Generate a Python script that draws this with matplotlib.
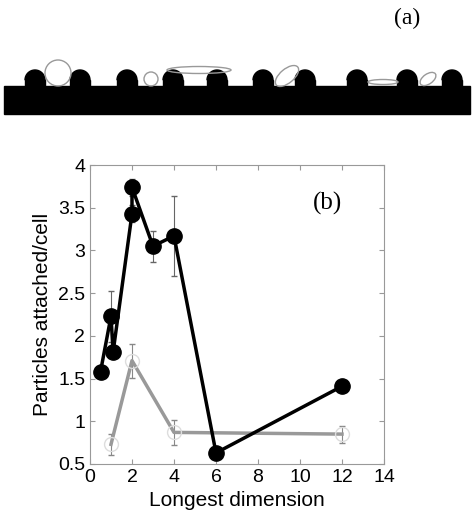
import matplotlib.pyplot as plt
from matplotlib.patches import Rectangle, Ellipse, Wedge

# panel (b) data
black_x = [0.5, 1.0, 1.1, 2.0, 2.0, 3.0, 4.0, 6.0, 12.0]
black_y = [1.58, 2.23, 1.81, 3.43, 3.74, 3.05, 3.17, 0.63, 1.41]
black_err = [0.03, 0.3, 0.05, 0.1, 0.1, 0.18, 0.47, 0.03, 0.03]
gray_x = [1.0, 2.0, 4.0, 12.0]
gray_y = [0.73, 1.71, 0.87, 0.85]
gray_err = [0.12, 0.2, 0.15, 0.1]

# panel (a) schematic, in pixel units
cell_x = [35, 80, 127, 173, 217, 263, 305, 357, 407, 452]
particles = [  # (x, y, width, height, angle)
    (58, 73, 26, 26, 0), (151, 79, 14, 14, 0), (199, 70, 64, 7, 0),
    (287, 76, 28, 14, 40), (383, 82, 30, 5, 0), (428, 79, 18, 10, 35),
]

W, H = 474, 526
fig = plt.figure(figsize=(W / 100, H / 100), dpi=100)

ax_a = fig.add_axes([0, 1 - 130 / H, 1, 130 / H])
ax_a.set_xlim(0, W)
ax_a.set_ylim(130, 0)
ax_a.axis("off")
ax_a.add_patch(Rectangle((4, 86), 466, 28, color="black"))
for cx in cell_x:
    ax_a.add_patch(Rectangle((cx - 10, 80), 20, 7, color="black"))
    ax_a.add_patch(Wedge((cx, 80), 10, 180, 360, color="black"))
for px, py, pw, ph, ang in particles:
    ax_a.add_patch(Ellipse((px, py), pw, ph, angle=-ang, fill=False, edgecolor="#999999", linewidth=1))
ax_a.text(407, 18, "(a)", fontsize=17, family="Liberation Serif", ha="center", va="center")

ax = fig.add_axes([90 / W, 1 - 464 / H, 294 / W, 299 / H])
ax.errorbar(gray_x, gray_y, yerr=gray_err, color="#999999", linewidth=2.5, marker="o",
            markersize=10, markerfacecolor="none", markeredgecolor="#dddddd",
            ecolor="#888888", elinewidth=0.8, capsize=2)
ax.errorbar(black_x, black_y, yerr=black_err, color="black", linewidth=2.5, marker="o",
            markersize=11, ecolor="#666666", elinewidth=0.8, capsize=2)
ax.set_xlim(0, 14)
ax.set_ylim(0.5, 4)
ax.set_xticks(range(0, 15, 2))
ax.set_yticks([0.5, 1, 1.5, 2, 2.5, 3, 3.5, 4])
ax.set_yticklabels(["0.5", "1", "1.5", "2", "2.5", "3", "3.5", "4"])
ax.tick_params(direction="in", top=True, right=True, labelsize=14, color="#999999")
for s in ax.spines.values():
    s.set_color("#999999")
ax.set_xlabel("Longest dimension", fontsize=15, family="Liberation Sans")
ax.set_ylabel("Particles attached/cell", fontsize=15, family="Liberation Sans")
for lab in ax.get_xticklabels() + ax.get_yticklabels():
    lab.set_family("Liberation Sans")
ax.text(11.3, 3.55, "(b)", fontsize=18, family="Liberation Serif", ha="center", va="center")

fig.savefig("out.png", dpi=100)
